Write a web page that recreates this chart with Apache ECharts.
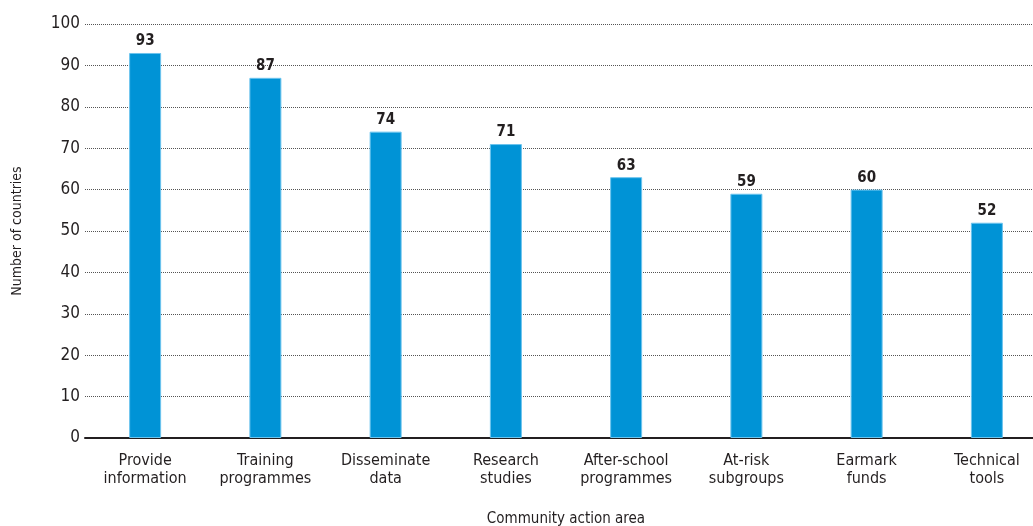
<!DOCTYPE html>
<html><head><meta charset="utf-8">
<script src="https://cdn.jsdelivr.net/npm/echarts@6/dist/echarts.min.js"></script>
<style>html,body{margin:0;padding:0;background:#fff;overflow:hidden}#c{width:1033px;height:526px}</style>
</head><body><div id="c"></div>
<script>
const categories = ['Provide\ninformation','Training\nprogrammes','Disseminate\ndata','Research\nstudies','After-school\nprogrammes','At-risk\nsubgroups','Earmark\nfunds','Technical\ntools'];
const values = [93, 87, 74, 71, 63, 59, 60, 52];
const yTicks = [0, 100, 10];
const FONT = '"Liberation Sans Narrow","DejaVu Sans Condensed",sans-serif';
const chart = echarts.init(document.getElementById('c'));
chart.setOption({
  animation: false,
  grid: {left: 85, top: 24, width: 962, height: 414, containLabel: false, outerBoundsMode: 'none'},
  xAxis: {
    type: 'category', data: categories,
    name: 'Community action area', nameLocation: 'middle', nameGap: 74,
    nameTextStyle: {fontFamily: FONT, fontSize: 15, color: '#231f20'},
    axisLine: {show: true, lineStyle: {color: '#231f20', width: 2}},
    axisTick: {show: false},
    axisLabel: {fontFamily: FONT, fontSize: 16, color: '#231f20', lineHeight: 18, margin: 14, interval: 0}
  },
  yAxis: {
    type: 'value', min: yTicks[0], max: yTicks[1], interval: yTicks[2],
    name: 'Number of countries', nameLocation: 'middle', nameGap: 61, nameRotate: 90,
    nameTextStyle: {fontFamily: FONT, fontSize: 14, color: '#231f20'},
    axisLine: {show: false}, axisTick: {show: false},
    axisLabel: {fontFamily: FONT, fontSize: 17, color: '#231f20', margin: 5},
    splitLine: {show: true, lineStyle: {color: '#555', type: 'dotted', width: 1}}
  },
  series: [{
    type: 'bar', data: values, barWidth: 32,
    itemStyle: {color: '#0093d6', borderColor: '#6cc4ee', borderWidth: 1},
    label: {show: true, position: 'top', distance: 4, fontFamily: FONT, fontWeight: 'bold', fontSize: 15, color: '#231f20'}
  }]
});
</script></body></html>
